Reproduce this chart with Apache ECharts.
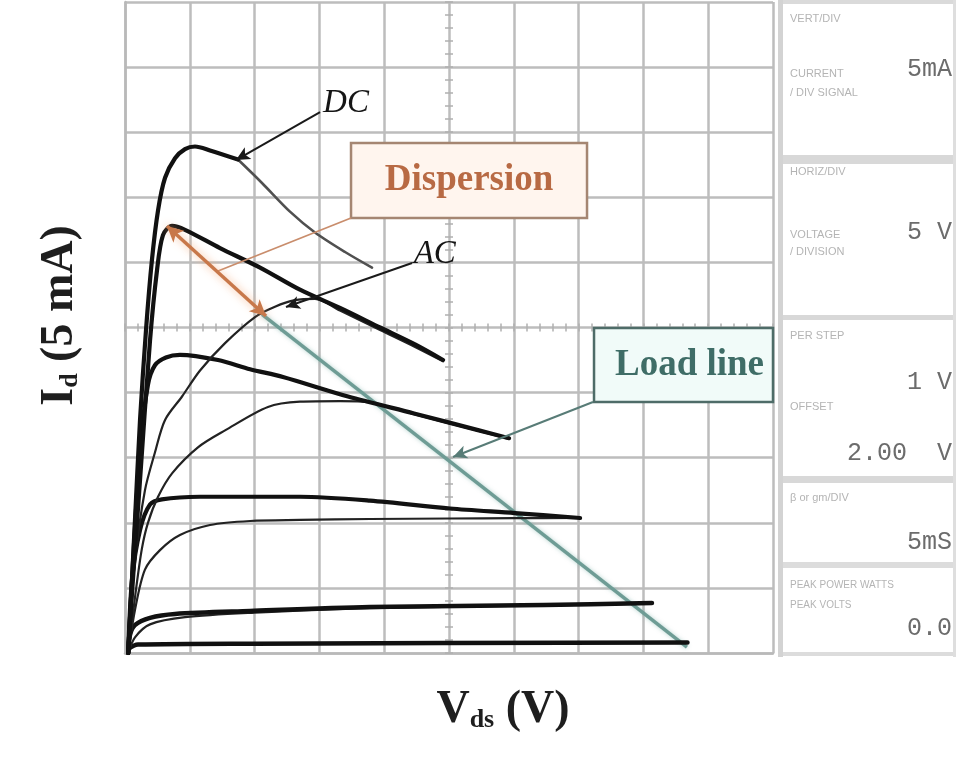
<!DOCTYPE html>
<html><head><meta charset="utf-8">
<script src="https://cdn.jsdelivr.net/npm/echarts@6/dist/echarts.min.js"></script>
<style>html,body{margin:0;padding:0;background:#fff}#c{width:978px;height:775px}</style>
</head><body><div id="c"></div>
<script>
// Vds in V (5 V/div), Id in mA (5 mA/div)
const dcTop = [[0.25,0],[0.46,4.1],[0.77,10.2],[1.16,17.9],[1.62,24.8],[2.08,30.2],[2.55,34.0],[3.09,36.5],[3.86,38.0],[4.63,38.7],[5.40,38.9],[6.56,38.6],[8.72,37.9]];
const dcTopTail = [[8.72,37.9],[10.57,36.1],[12.73,33.9],[14.66,32.3],[16.98,30.8],[19.06,29.6]];
const dc2 = [[0.25,0],[0.39,2.5],[1.16,13.3],[1.93,24.0],[2.47,29.4],[2.93,32.1],[3.63,32.8],[4.63,32.5],[7.33,31.1],[10.42,29.6],[13.50,27.9],[16.59,26.5],[19.68,25.0],[22.38,23.7],[24.54,22.5]];
const ac2 = [[0.25,0],[0.77,7.1],[1.54,12.5],[2.31,15.4],[3.09,17.9],[4.40,19.7],[5.79,21.7],[7.72,23.8],[10.03,25.8],[11.57,26.6],[13.12,27.1],[14.66,27.2],[16.59,26.3],[19.68,24.8],[22.38,23.5],[24.54,22.4]];
const dc3 = [[0.25,0],[0.54,5.6],[1.16,15.6],[1.77,20.6],[2.31,22.1],[3.16,22.7],[4.24,22.9],[7.18,22.5],[9.65,21.8],[12.19,21.2],[17.21,19.7],[22.30,18.4],[27.31,17.1],[29.63,16.5]];
const ac3 = [[0.25,0],[0.8,4.5],[1.3,8.0],[1.77,10.0],[2.55,12.0],[3.63,13.8],[5.63,15.8],[7.72,17.1],[11.03,18.9],[13.5,19.3],[16.59,19.35],[18.9,19.25],[22.3,18.35],[27.31,17.05],[29.63,16.45]];
const dc4 = [[0.25,0],[0.54,5.6],[1.16,9.45],[1.93,11.4],[2.85,11.8],[5.79,12.0],[13.5,12.0],[18.9,11.7],[25.08,11.1],[30.09,10.75],[35.11,10.37]];
const ac4 = [[0.25,0],[0.77,3.3],[1.54,6.4],[2.70,7.9],[4.24,9.06],[6.56,9.83],[9.65,10.14],[13.5,10.22],[18.9,10.29],[25.08,10.33],[30.09,10.36],[35.11,10.37]];
const dc5 = [[0.25,0],[0.39,1.4],[0.77,2.15],[1.93,2.7],[3.86,3.0],[9.65,3.23],[18.9,3.53],[32.33,3.69],[40.66,3.84]];
const ac5 = [[0.25,0],[0.77,1.2],[1.93,2.2],[4.63,2.75],[10.0,3.1],[18.9,3.45],[32.33,3.65],[40.66,3.8]];
const dc6 = [[0.25,0.3],[1.0,0.65],[10,0.72],[43.4,0.8]];
const loadLine = [[10.57,26.0],[43.36,0.46]];

// annotation anchors (data coordinates)
const dcArrow = [[15.05,41.55],[8.56,37.86]];
const acArrow = [[22.15,29.95],[12.42,26.57]];
const dispConnector = [[17.44,33.41],[7.18,29.34]];
const dispArrow = [[3.24,32.8],[10.88,25.88]];
const loadConnector = [[36.11,19.28],[25.31,15.05]];
const dispBox = [[17.44,39.17],[35.65,33.41]];
const loadBox = [[36.19,24.96],[50.46,19.28]];
const dcLabelAt = [17.05,42.2];
const acLabelAt = [23.9,30.6];

const serif = "'Liberation Serif','Times New Roman',serif";
const mono = "'Liberation Mono','DejaVu Sans Mono',monospace";
const sans = "'Liberation Sans','DejaVu Sans',sans-serif";
const gridGray = '#bdbdbd';

function curve(data, width, color, z){
  return {type:'line', xAxisIndex:0, yAxisIndex:0, data:data, symbol:'none', smooth:0.3, silent:true,
    lineStyle:{width:width, color:color, cap:'round', join:'round'}, z:z||3};
}
function seg(p, color, width){
  return [{coord:p[0], symbol:'none', lineStyle:{color:color, width:width, type:'solid'}},
          {coord:p[1], symbol:'none'}];
}
// graticule centre-line tick axes
function tickX(inside){
  return {type:'value', min:0, max:50, interval:1, gridIndex:0,
    axisLine:{show:true, onZero:true, onZeroAxisIndex:1, lineStyle:{color:'rgba(0,0,0,0)'}},
    axisTick:{show:true, inside:inside, length:4, lineStyle:{color:'#b0b0b0', width:1.5}},
    axisLabel:{show:false}, splitLine:{show:false}};
}
function tickY(inside){
  return {type:'value', min:0, max:50, interval:1, gridIndex:0,
    axisLine:{show:true, onZero:true, onZeroAxisIndex:3, lineStyle:{color:'rgba(0,0,0,0)'}},
    axisTick:{show:true, inside:inside, length:4, lineStyle:{color:'#b0b0b0', width:1.5}},
    axisLabel:{show:false}, splitLine:{show:false}};
}
const hiddenCentre = {type:'value', min:-25, max:25, show:false, gridIndex:0,
  axisLine:{onZero:false}, splitLine:{show:false}};

const chart = echarts.init(document.getElementById('c'));
const panelLabel = '#b4b4b4', panelVal = '#6c6c6c';
function ptxt(t, x, y, size, color, align, font){
  return {type:'text', x:x, y:y, silent:true, style:{text:t, fill:color, font:(size)+'px '+(font||sans), textAlign:align||'left', textVerticalAlign:'middle'}};
}
function prect(x,y,w,h,c){ return {type:'rect', silent:true, shape:{x:x,y:y,width:w,height:h}, style:{fill:c}}; }

const labelRich = {
  v:{fontSize:46, fontWeight:'bold', fontFamily:serif, color:'#1e1e1e'},
  s:{fontSize:26, fontWeight:'bold', fontFamily:serif, color:'#1e1e1e', lineHeight:12, verticalAlign:'bottom'}};

chart.setOption({
  animation:false,
  backgroundColor:'#ffffff',
  grid:{left:125, right:205, top:2, bottom:122},
  xAxis:[
    {type:'value', min:0, max:50, interval:5,
      name:'{v|V}{s|ds}{v| (V)}', nameLocation:'middle', nameGap:34,
      nameTextStyle:{padding:[0,0,0,108], rich:labelRich},
      axisLine:{show:true, onZero:false, lineStyle:{color:'#b9b9b9', width:2.5}}, axisTick:{show:false}, axisLabel:{show:false},
      splitLine:{show:true, lineStyle:{color:gridGray, width:2.5}}},
    tickX(false), tickX(true),
    hiddenCentre
  ],
  yAxis:[
    {type:'value', min:0, max:50, interval:5,
      name:'{v|I}{s|d}{v| (5 mA)}', nameLocation:'middle', nameGap:42,
      nameTextStyle:{padding:[0,0,0,24], rich:labelRich},
      axisLine:{show:true, onZero:false, lineStyle:{color:'#b9b9b9', width:2.5}}, axisTick:{show:false}, axisLabel:{show:false},
      splitLine:{show:true, lineStyle:{color:gridGray, width:2.5}}},
    hiddenCentre,
    tickY(false), tickY(true)
  ],
  series:[
    {type:'line', data:loadLine, symbol:'none', silent:true, z:2,
      lineStyle:{width:3.5, color:'#6e9c95', shadowBlur:4, shadowColor:'rgba(110,170,160,0.5)'}},
    curve(dc6, 4.5, '#111'),
    curve(ac5, 2.2, '#222'),
    curve(dc5, 4.5, '#111'),
    curve(ac4, 2.2, '#222'),
    curve(dc4, 4.2, '#111'),
    curve(ac3, 2.2, '#222'),
    curve(dc3, 4.2, '#111'),
    curve(ac2, 2.2, '#222'),
    curve(dc2, 4.2, '#111'),
    curve(dcTopTail, 2.6, '#505050'),
    curve(dcTop, 4.2, '#111'),
    {type:'line', data:[], clip:false, silent:true, z:6,
      markArea:{silent:true, data:[
        [{coord:dispBox[0], itemStyle:{color:'#fff5ee', borderColor:'#a58672', borderWidth:2.5},
          label:{show:true, position:'inside', formatter:'Dispersion', color:'#b86a44', fontFamily:serif, fontWeight:'bold', fontSize:37}},
         {coord:dispBox[1]}],
        [{coord:loadBox[0], itemStyle:{color:'#f1fbf9', borderColor:'#4e6c68', borderWidth:2.5},
          label:{show:true, position:'inside', offset:[6,0], formatter:'Load line', color:'#3f6d67', fontFamily:serif, fontWeight:'bold', fontSize:37}},
         {coord:loadBox[1]}]
      ]},
      markLine:{silent:true, symbolSize:[10,14], label:{show:false}, data:[
        seg(dcArrow, '#1a1a1a', 2),
        seg(acArrow, '#1a1a1a', 2),
        seg(dispConnector, '#c98d6c', 1.8),
        seg(loadConnector, '#587c77', 2)
      ].map(function(d,i){ if(i!==2){ d[1].symbol='arrow'; } return d; })},
      markPoint:{silent:true, symbol:'circle', symbolSize:1, itemStyle:{color:'rgba(0,0,0,0)'},
        label:{show:true, position:'inside', fontFamily:serif, fontStyle:'italic', fontSize:33, color:'#151515'},
        data:[{coord:dcLabelAt, label:{formatter:'DC'}}, {coord:acLabelAt, label:{formatter:'AC'}}]}
    },
    {type:'line', data:[], clip:false, silent:true, z:7,
      markLine:{silent:true, symbol:['arrow','arrow'], symbolSize:[12,16], label:{show:false},
        lineStyle:{color:'#c8784a', width:3.5, type:'solid', shadowBlur:8, shadowColor:'rgba(245,170,120,0.8)'},
        data:[[{coord:dispArrow[0]},{coord:dispArrow[1]}]]}}
  ],
  graphic:[
    prect(778,0,5,657,'#d3d3d3'),
    prect(953,0,3,657,'#dedede'),
    prect(783,0,170,4,'#dadada'),
    prect(783,155,170,9,'#d8d8d8'),
    prect(783,315,170,5,'#d8d8d8'),
    prect(783,476,170,7,'#d8d8d8'),
    prect(783,562,170,6,'#dcdcdc'),
    prect(783,652,170,4,'#dcdcdc'),
    ptxt('VERT/DIV', 790, 19, 11, panelLabel),
    ptxt('CURRENT', 790, 74, 11, panelLabel),
    ptxt('/ DIV SIGNAL', 790, 93, 11, panelLabel),
    ptxt('5mA', 952, 69, 25, panelVal, 'right', mono),
    ptxt('HORIZ/DIV', 790, 172, 11, panelLabel),
    ptxt('VOLTAGE', 790, 235, 11, panelLabel),
    ptxt('/ DIVISION', 790, 252, 11, panelLabel),
    ptxt('5 V', 952, 232, 25, panelVal, 'right', mono),
    ptxt('PER STEP', 790, 336, 11, panelLabel),
    ptxt('1 V', 952, 382, 25, panelVal, 'right', mono),
    ptxt('OFFSET', 790, 407, 11, panelLabel),
    ptxt('2.00  V', 952, 453, 25, panelVal, 'right', mono),
    ptxt('\u03b2 or gm/DIV', 790, 498, 11, panelLabel),
    ptxt('5mS', 952, 542, 25, panelVal, 'right', mono),
    ptxt('PEAK POWER WATTS', 790, 585, 10, panelLabel),
    ptxt('PEAK VOLTS', 790, 605, 10, panelLabel),
    ptxt('0.0', 952, 628, 25, panelVal, 'right', mono)
  ]
});
</script></body></html>
